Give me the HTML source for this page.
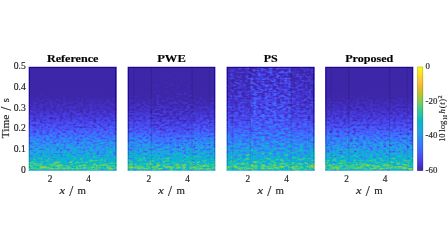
<!DOCTYPE html>
<html lang="en"><head><meta charset="utf-8"><title>Spectrogram comparison</title>
<style>html,body{margin:0;padding:0;background:#fff}body{width:448px;height:252px;overflow:hidden;position:relative;font-family:"Liberation Serif",serif}</style></head>
<body>
<svg width="448" height="252" viewBox="0 0 448 252" style="position:absolute;left:0;top:0;display:block">
<defs>
<linearGradient id="gb" x1="0" y1="0" x2="0" y2="1"><stop offset="0.007" stop-color="rgb(0,0,13)"/><stop offset="0.145" stop-color="rgb(10,0,18)"/><stop offset="0.205" stop-color="rgb(17,0,22)"/><stop offset="0.304" stop-color="rgb(23,0,26)"/><stop offset="0.403" stop-color="rgb(30,0,37)"/><stop offset="0.502" stop-color="rgb(40,0,53)"/><stop offset="0.602" stop-color="rgb(56,0,76)"/><stop offset="0.701" stop-color="rgb(82,0,122)"/><stop offset="0.760" stop-color="rgb(95,28,139)"/><stop offset="0.820" stop-color="rgb(107,113,152)"/><stop offset="0.867" stop-color="rgb(120,181,143)"/><stop offset="0.899" stop-color="rgb(130,227,135)"/><stop offset="0.929" stop-color="rgb(142,255,125)"/><stop offset="0.958" stop-color="rgb(155,255,115)"/><stop offset="0.972" stop-color="rgb(162,255,109)"/><stop offset="0.980" stop-color="rgb(160,255,111)"/><stop offset="0.988" stop-color="rgb(128,255,137)"/><stop offset="0.998" stop-color="rgb(112,255,150)"/></linearGradient>
<linearGradient id="gs" x1="0" y1="0" x2="0" y2="1"><stop offset="0.007" stop-color="rgb(27,0,76)"/><stop offset="0.205" stop-color="rgb(32,0,76)"/><stop offset="0.403" stop-color="rgb(39,0,76)"/><stop offset="0.502" stop-color="rgb(48,0,76)"/><stop offset="0.602" stop-color="rgb(62,0,84)"/><stop offset="0.701" stop-color="rgb(82,0,122)"/><stop offset="0.760" stop-color="rgb(95,28,139)"/><stop offset="0.820" stop-color="rgb(107,113,152)"/><stop offset="0.867" stop-color="rgb(120,181,143)"/><stop offset="0.899" stop-color="rgb(130,227,135)"/><stop offset="0.929" stop-color="rgb(142,255,125)"/><stop offset="0.958" stop-color="rgb(155,255,115)"/><stop offset="0.972" stop-color="rgb(162,255,109)"/><stop offset="0.980" stop-color="rgb(160,255,111)"/><stop offset="0.988" stop-color="rgb(128,255,137)"/><stop offset="0.998" stop-color="rgb(112,255,150)"/></linearGradient>
<linearGradient id="gm" x1="0" y1="0" x2="0" y2="1"><stop offset="0.007" stop-color="rgb(35,0,107)"/><stop offset="0.205" stop-color="rgb(40,0,107)"/><stop offset="0.403" stop-color="rgb(49,0,107)"/><stop offset="0.502" stop-color="rgb(56,0,107)"/><stop offset="0.602" stop-color="rgb(66,0,107)"/><stop offset="0.701" stop-color="rgb(82,0,122)"/><stop offset="0.760" stop-color="rgb(95,28,139)"/><stop offset="0.820" stop-color="rgb(107,113,152)"/><stop offset="0.867" stop-color="rgb(120,181,143)"/><stop offset="0.899" stop-color="rgb(130,227,135)"/><stop offset="0.929" stop-color="rgb(142,255,125)"/><stop offset="0.958" stop-color="rgb(155,255,115)"/><stop offset="0.972" stop-color="rgb(162,255,109)"/><stop offset="0.980" stop-color="rgb(160,255,111)"/><stop offset="0.988" stop-color="rgb(128,255,137)"/><stop offset="0.998" stop-color="rgb(112,255,150)"/></linearGradient>
<linearGradient id="gp" x1="0" y1="0" x2="0" y2="1"><stop offset="0.007" stop-color="rgb(8,0,64)"/><stop offset="0.086" stop-color="rgb(14,0,64)"/><stop offset="0.205" stop-color="rgb(16,0,64)"/><stop offset="0.304" stop-color="rgb(21,0,64)"/><stop offset="0.403" stop-color="rgb(28,0,64)"/><stop offset="0.502" stop-color="rgb(36,0,64)"/><stop offset="0.602" stop-color="rgb(50,0,68)"/><stop offset="0.701" stop-color="rgb(73,0,106)"/><stop offset="0.760" stop-color="rgb(89,28,132)"/><stop offset="0.820" stop-color="rgb(107,113,152)"/><stop offset="0.867" stop-color="rgb(120,181,143)"/><stop offset="0.899" stop-color="rgb(130,227,135)"/><stop offset="0.929" stop-color="rgb(142,255,125)"/><stop offset="0.958" stop-color="rgb(155,255,115)"/><stop offset="0.972" stop-color="rgb(162,255,109)"/><stop offset="0.980" stop-color="rgb(160,255,111)"/><stop offset="0.988" stop-color="rgb(128,255,137)"/><stop offset="0.998" stop-color="rgb(112,255,150)"/></linearGradient>
<filter id="f0" x="0" y="0" width="1" height="1" color-interpolation-filters="sRGB"><feColorMatrix in="SourceGraphic" type="matrix" values="1 0 0 0 0 1 0 0 0 0 1 0 0 0 0 0 0 0 0 1" result="m"/><feColorMatrix in="SourceGraphic" type="matrix" values="0 1 0 0 0 0 1 0 0 0 0 1 0 0 0 0 0 0 0 1" result="w"/><feColorMatrix in="SourceGraphic" type="matrix" values="0 0 1 0 0 0 0 1 0 0 0 0 1 0 0 0 0 0 0 1" result="a"/><feTurbulence type="fractalNoise" baseFrequency="0.3 0.45" numOctaves="2" seed="3" result="n0"/><feGaussianBlur in="n0" stdDeviation="0.3" result="n1"/><feColorMatrix in="n1" type="matrix" values="1 0 0 0 0 1 0 0 0 0 1 0 0 0 0 0 0 0 0 1" result="n2"/><feComponentTransfer in="n2" result="ns"><feFuncR type="table" tableValues="0.000 0.000 0.000 0.040 0.122 0.200 0.272 0.340 0.402 0.460 0.512 0.559 0.602 0.640 0.672 0.700 0.722 0.740 0.752 0.760 0.762"/><feFuncG type="table" tableValues="0.000 0.000 0.000 0.040 0.122 0.200 0.272 0.340 0.402 0.460 0.512 0.559 0.602 0.640 0.672 0.700 0.722 0.740 0.752 0.760 0.762"/><feFuncB type="table" tableValues="0.000 0.000 0.000 0.040 0.122 0.200 0.272 0.340 0.402 0.460 0.512 0.559 0.602 0.640 0.672 0.700 0.722 0.740 0.752 0.760 0.762"/></feComponentTransfer><feTurbulence type="fractalNoise" baseFrequency="0.13 0.6" numOctaves="2" seed="103" result="h0"/><feColorMatrix in="h0" type="matrix" values="1 0 0 0 0 1 0 0 0 0 1 0 0 0 0 0 0 0 0 1" result="h1"/><feComposite in="w" in2="h1" operator="arithmetic" k1="0.300" k2="-0.150" k3="0" k4="0.5" result="t2"/><feComposite in="m" in2="t2" operator="arithmetic" k1="0" k2="1" k3="1" k4="-0.5" result="m2"/><feComposite in="a" in2="ns" operator="arithmetic" k1="1.000" k2="-0.500" k3="0" k4="0.5" result="an"/><feComposite in="m2" in2="an" operator="arithmetic" k1="0" k2="1.1" k3="1" k4="-0.6" result="v"/><feComponentTransfer in="v"><feFuncR type="table" tableValues="0.242 0.250 0.258 0.265 0.271 0.275 0.278 0.280 0.281 0.281 0.280 0.276 0.270 0.260 0.244 0.221 0.196 0.183 0.179 0.176 0.169 0.154 0.146 0.138 0.125 0.111 0.095 0.069 0.030 0.004 0.007 0.043 0.096 0.141 0.172 0.194 0.216 0.247 0.291 0.341 0.391 0.446 0.504 0.562 0.617 0.672 0.724 0.774 0.820 0.863 0.903 0.939 0.973 0.996 0.997 0.995 0.989 0.979 0.968 0.961 0.960 0.963 0.969 0.977"/><feFuncG type="table" tableValues="0.150 0.165 0.182 0.198 0.215 0.234 0.256 0.278 0.301 0.323 0.345 0.367 0.389 0.412 0.436 0.460 0.485 0.507 0.529 0.550 0.570 0.590 0.609 0.628 0.646 0.663 0.680 0.695 0.708 0.720 0.731 0.741 0.750 0.758 0.767 0.776 0.784 0.792 0.797 0.801 0.803 0.802 0.799 0.794 0.788 0.779 0.770 0.760 0.750 0.741 0.733 0.729 0.730 0.743 0.766 0.789 0.814 0.839 0.864 0.889 0.913 0.937 0.961 0.984"/><feFuncB type="table" tableValues="0.660 0.708 0.751 0.795 0.836 0.871 0.899 0.922 0.941 0.958 0.972 0.983 0.991 0.995 0.999 0.997 0.989 0.980 0.968 0.952 0.936 0.922 0.908 0.897 0.888 0.876 0.860 0.839 0.816 0.792 0.766 0.739 0.712 0.684 0.655 0.625 0.592 0.557 0.519 0.479 0.435 0.391 0.348 0.304 0.261 0.223 0.191 0.165 0.153 0.160 0.177 0.210 0.239 0.237 0.220 0.203 0.189 0.177 0.164 0.154 0.142 0.127 0.106 0.081"/></feComponentTransfer></filter>
<filter id="f1" x="0" y="0" width="1" height="1" color-interpolation-filters="sRGB"><feColorMatrix in="SourceGraphic" type="matrix" values="1 0 0 0 0 1 0 0 0 0 1 0 0 0 0 0 0 0 0 1" result="m"/><feColorMatrix in="SourceGraphic" type="matrix" values="0 1 0 0 0 0 1 0 0 0 0 1 0 0 0 0 0 0 0 1" result="w"/><feColorMatrix in="SourceGraphic" type="matrix" values="0 0 1 0 0 0 0 1 0 0 0 0 1 0 0 0 0 0 0 1" result="a"/><feTurbulence type="fractalNoise" baseFrequency="0.3 0.45" numOctaves="2" seed="11" result="n0"/><feGaussianBlur in="n0" stdDeviation="0.3" result="n1"/><feColorMatrix in="n1" type="matrix" values="1 0 0 0 0 1 0 0 0 0 1 0 0 0 0 0 0 0 0 1" result="n2"/><feComponentTransfer in="n2" result="ns"><feFuncR type="table" tableValues="0.000 0.000 0.000 0.040 0.122 0.200 0.272 0.340 0.402 0.460 0.512 0.559 0.602 0.640 0.672 0.700 0.722 0.740 0.752 0.760 0.762"/><feFuncG type="table" tableValues="0.000 0.000 0.000 0.040 0.122 0.200 0.272 0.340 0.402 0.460 0.512 0.559 0.602 0.640 0.672 0.700 0.722 0.740 0.752 0.760 0.762"/><feFuncB type="table" tableValues="0.000 0.000 0.000 0.040 0.122 0.200 0.272 0.340 0.402 0.460 0.512 0.559 0.602 0.640 0.672 0.700 0.722 0.740 0.752 0.760 0.762"/></feComponentTransfer><feTurbulence type="fractalNoise" baseFrequency="0.13 0.6" numOctaves="2" seed="111" result="h0"/><feColorMatrix in="h0" type="matrix" values="1 0 0 0 0 1 0 0 0 0 1 0 0 0 0 0 0 0 0 1" result="h1"/><feComposite in="w" in2="h1" operator="arithmetic" k1="0.300" k2="-0.150" k3="0" k4="0.5" result="t2"/><feComposite in="m" in2="t2" operator="arithmetic" k1="0" k2="1" k3="1" k4="-0.5" result="m2"/><feComposite in="a" in2="ns" operator="arithmetic" k1="1.000" k2="-0.500" k3="0" k4="0.5" result="an"/><feComposite in="m2" in2="an" operator="arithmetic" k1="0" k2="1.1" k3="1" k4="-0.6" result="v"/><feComponentTransfer in="v"><feFuncR type="table" tableValues="0.242 0.250 0.258 0.265 0.271 0.275 0.278 0.280 0.281 0.281 0.280 0.276 0.270 0.260 0.244 0.221 0.196 0.183 0.179 0.176 0.169 0.154 0.146 0.138 0.125 0.111 0.095 0.069 0.030 0.004 0.007 0.043 0.096 0.141 0.172 0.194 0.216 0.247 0.291 0.341 0.391 0.446 0.504 0.562 0.617 0.672 0.724 0.774 0.820 0.863 0.903 0.939 0.973 0.996 0.997 0.995 0.989 0.979 0.968 0.961 0.960 0.963 0.969 0.977"/><feFuncG type="table" tableValues="0.150 0.165 0.182 0.198 0.215 0.234 0.256 0.278 0.301 0.323 0.345 0.367 0.389 0.412 0.436 0.460 0.485 0.507 0.529 0.550 0.570 0.590 0.609 0.628 0.646 0.663 0.680 0.695 0.708 0.720 0.731 0.741 0.750 0.758 0.767 0.776 0.784 0.792 0.797 0.801 0.803 0.802 0.799 0.794 0.788 0.779 0.770 0.760 0.750 0.741 0.733 0.729 0.730 0.743 0.766 0.789 0.814 0.839 0.864 0.889 0.913 0.937 0.961 0.984"/><feFuncB type="table" tableValues="0.660 0.708 0.751 0.795 0.836 0.871 0.899 0.922 0.941 0.958 0.972 0.983 0.991 0.995 0.999 0.997 0.989 0.980 0.968 0.952 0.936 0.922 0.908 0.897 0.888 0.876 0.860 0.839 0.816 0.792 0.766 0.739 0.712 0.684 0.655 0.625 0.592 0.557 0.519 0.479 0.435 0.391 0.348 0.304 0.261 0.223 0.191 0.165 0.153 0.160 0.177 0.210 0.239 0.237 0.220 0.203 0.189 0.177 0.164 0.154 0.142 0.127 0.106 0.081"/></feComponentTransfer></filter>
<filter id="f2" x="0" y="0" width="1" height="1" color-interpolation-filters="sRGB"><feColorMatrix in="SourceGraphic" type="matrix" values="1 0 0 0 0 1 0 0 0 0 1 0 0 0 0 0 0 0 0 1" result="m"/><feColorMatrix in="SourceGraphic" type="matrix" values="0 1 0 0 0 0 1 0 0 0 0 1 0 0 0 0 0 0 0 1" result="w"/><feColorMatrix in="SourceGraphic" type="matrix" values="0 0 1 0 0 0 0 1 0 0 0 0 1 0 0 0 0 0 0 1" result="a"/><feTurbulence type="fractalNoise" baseFrequency="0.26 0.46" numOctaves="2" seed="23" result="n0"/><feGaussianBlur in="n0" stdDeviation="0.3" result="n1"/><feColorMatrix in="n1" type="matrix" values="1 0 0 0 0 1 0 0 0 0 1 0 0 0 0 0 0 0 0 1" result="n2"/><feComponentTransfer in="n2" result="ns"><feFuncR type="table" tableValues="0.119 0.145 0.174 0.205 0.239 0.275 0.314 0.355 0.399 0.445 0.494 0.545 0.599 0.655 0.714 0.775 0.839 0.905 0.974 1.000 1.000"/><feFuncG type="table" tableValues="0.119 0.145 0.174 0.205 0.239 0.275 0.314 0.355 0.399 0.445 0.494 0.545 0.599 0.655 0.714 0.775 0.839 0.905 0.974 1.000 1.000"/><feFuncB type="table" tableValues="0.119 0.145 0.174 0.205 0.239 0.275 0.314 0.355 0.399 0.445 0.494 0.545 0.599 0.655 0.714 0.775 0.839 0.905 0.974 1.000 1.000"/></feComponentTransfer><feTurbulence type="fractalNoise" baseFrequency="0.13 0.6" numOctaves="2" seed="123" result="h0"/><feColorMatrix in="h0" type="matrix" values="1 0 0 0 0 1 0 0 0 0 1 0 0 0 0 0 0 0 0 1" result="h1"/><feComposite in="w" in2="h1" operator="arithmetic" k1="0.300" k2="-0.150" k3="0" k4="0.5" result="t2"/><feComposite in="m" in2="t2" operator="arithmetic" k1="0" k2="1" k3="1" k4="-0.5" result="m2"/><feComposite in="a" in2="ns" operator="arithmetic" k1="1.000" k2="-0.500" k3="0" k4="0.5" result="an"/><feComposite in="m2" in2="an" operator="arithmetic" k1="0" k2="1.1" k3="1" k4="-0.6" result="v"/><feComponentTransfer in="v"><feFuncR type="table" tableValues="0.242 0.250 0.258 0.265 0.271 0.275 0.278 0.280 0.281 0.281 0.280 0.276 0.270 0.260 0.244 0.221 0.196 0.183 0.179 0.176 0.169 0.154 0.146 0.138 0.125 0.111 0.095 0.069 0.030 0.004 0.007 0.043 0.096 0.141 0.172 0.194 0.216 0.247 0.291 0.341 0.391 0.446 0.504 0.562 0.617 0.672 0.724 0.774 0.820 0.863 0.903 0.939 0.973 0.996 0.997 0.995 0.989 0.979 0.968 0.961 0.960 0.963 0.969 0.977"/><feFuncG type="table" tableValues="0.150 0.165 0.182 0.198 0.215 0.234 0.256 0.278 0.301 0.323 0.345 0.367 0.389 0.412 0.436 0.460 0.485 0.507 0.529 0.550 0.570 0.590 0.609 0.628 0.646 0.663 0.680 0.695 0.708 0.720 0.731 0.741 0.750 0.758 0.767 0.776 0.784 0.792 0.797 0.801 0.803 0.802 0.799 0.794 0.788 0.779 0.770 0.760 0.750 0.741 0.733 0.729 0.730 0.743 0.766 0.789 0.814 0.839 0.864 0.889 0.913 0.937 0.961 0.984"/><feFuncB type="table" tableValues="0.660 0.708 0.751 0.795 0.836 0.871 0.899 0.922 0.941 0.958 0.972 0.983 0.991 0.995 0.999 0.997 0.989 0.980 0.968 0.952 0.936 0.922 0.908 0.897 0.888 0.876 0.860 0.839 0.816 0.792 0.766 0.739 0.712 0.684 0.655 0.625 0.592 0.557 0.519 0.479 0.435 0.391 0.348 0.304 0.261 0.223 0.191 0.165 0.153 0.160 0.177 0.210 0.239 0.237 0.220 0.203 0.189 0.177 0.164 0.154 0.142 0.127 0.106 0.081"/></feComponentTransfer></filter>
<filter id="f3" x="0" y="0" width="1" height="1" color-interpolation-filters="sRGB"><feColorMatrix in="SourceGraphic" type="matrix" values="1 0 0 0 0 1 0 0 0 0 1 0 0 0 0 0 0 0 0 1" result="m"/><feColorMatrix in="SourceGraphic" type="matrix" values="0 1 0 0 0 0 1 0 0 0 0 1 0 0 0 0 0 0 0 1" result="w"/><feColorMatrix in="SourceGraphic" type="matrix" values="0 0 1 0 0 0 0 1 0 0 0 0 1 0 0 0 0 0 0 1" result="a"/><feTurbulence type="fractalNoise" baseFrequency="0.3 0.45" numOctaves="2" seed="37" result="n0"/><feGaussianBlur in="n0" stdDeviation="0.3" result="n1"/><feColorMatrix in="n1" type="matrix" values="1 0 0 0 0 1 0 0 0 0 1 0 0 0 0 0 0 0 0 1" result="n2"/><feComponentTransfer in="n2" result="ns"><feFuncR type="table" tableValues="0.000 0.000 0.000 0.040 0.122 0.200 0.272 0.340 0.402 0.460 0.512 0.559 0.602 0.640 0.672 0.700 0.722 0.740 0.752 0.760 0.762"/><feFuncG type="table" tableValues="0.000 0.000 0.000 0.040 0.122 0.200 0.272 0.340 0.402 0.460 0.512 0.559 0.602 0.640 0.672 0.700 0.722 0.740 0.752 0.760 0.762"/><feFuncB type="table" tableValues="0.000 0.000 0.000 0.040 0.122 0.200 0.272 0.340 0.402 0.460 0.512 0.559 0.602 0.640 0.672 0.700 0.722 0.740 0.752 0.760 0.762"/></feComponentTransfer><feTurbulence type="fractalNoise" baseFrequency="0.13 0.6" numOctaves="2" seed="137" result="h0"/><feColorMatrix in="h0" type="matrix" values="1 0 0 0 0 1 0 0 0 0 1 0 0 0 0 0 0 0 0 1" result="h1"/><feComposite in="w" in2="h1" operator="arithmetic" k1="0.300" k2="-0.150" k3="0" k4="0.5" result="t2"/><feComposite in="m" in2="t2" operator="arithmetic" k1="0" k2="1" k3="1" k4="-0.5" result="m2"/><feComposite in="a" in2="ns" operator="arithmetic" k1="1.000" k2="-0.500" k3="0" k4="0.5" result="an"/><feComposite in="m2" in2="an" operator="arithmetic" k1="0" k2="1.1" k3="1" k4="-0.6" result="v"/><feComponentTransfer in="v"><feFuncR type="table" tableValues="0.242 0.250 0.258 0.265 0.271 0.275 0.278 0.280 0.281 0.281 0.280 0.276 0.270 0.260 0.244 0.221 0.196 0.183 0.179 0.176 0.169 0.154 0.146 0.138 0.125 0.111 0.095 0.069 0.030 0.004 0.007 0.043 0.096 0.141 0.172 0.194 0.216 0.247 0.291 0.341 0.391 0.446 0.504 0.562 0.617 0.672 0.724 0.774 0.820 0.863 0.903 0.939 0.973 0.996 0.997 0.995 0.989 0.979 0.968 0.961 0.960 0.963 0.969 0.977"/><feFuncG type="table" tableValues="0.150 0.165 0.182 0.198 0.215 0.234 0.256 0.278 0.301 0.323 0.345 0.367 0.389 0.412 0.436 0.460 0.485 0.507 0.529 0.550 0.570 0.590 0.609 0.628 0.646 0.663 0.680 0.695 0.708 0.720 0.731 0.741 0.750 0.758 0.767 0.776 0.784 0.792 0.797 0.801 0.803 0.802 0.799 0.794 0.788 0.779 0.770 0.760 0.750 0.741 0.733 0.729 0.730 0.743 0.766 0.789 0.814 0.839 0.864 0.889 0.913 0.937 0.961 0.984"/><feFuncB type="table" tableValues="0.660 0.708 0.751 0.795 0.836 0.871 0.899 0.922 0.941 0.958 0.972 0.983 0.991 0.995 0.999 0.997 0.989 0.980 0.968 0.952 0.936 0.922 0.908 0.897 0.888 0.876 0.860 0.839 0.816 0.792 0.766 0.739 0.712 0.684 0.655 0.625 0.592 0.557 0.519 0.479 0.435 0.391 0.348 0.304 0.261 0.223 0.191 0.165 0.153 0.160 0.177 0.210 0.239 0.237 0.220 0.203 0.189 0.177 0.164 0.154 0.142 0.127 0.106 0.081"/></feComponentTransfer></filter>
<linearGradient id="cb" x1="0" y1="0" x2="0" y2="1"><stop offset="0.0000" stop-color="#f9fb15"/><stop offset="0.0476" stop-color="#f5e924"/><stop offset="0.0952" stop-color="#fad62d"/><stop offset="0.1429" stop-color="#fec338"/><stop offset="0.1905" stop-color="#f0ba36"/><stop offset="0.2381" stop-color="#d1bf27"/><stop offset="0.2857" stop-color="#abc739"/><stop offset="0.3333" stop-color="#81cc59"/><stop offset="0.3810" stop-color="#57cc7a"/><stop offset="0.4286" stop-color="#37c897"/><stop offset="0.4762" stop-color="#24c1ae"/><stop offset="0.5238" stop-color="#02bac3"/><stop offset="0.5714" stop-color="#12b1d6"/><stop offset="0.6190" stop-color="#20a5e3"/><stop offset="0.6667" stop-color="#2797eb"/><stop offset="0.7143" stop-color="#2e87f7"/><stop offset="0.7619" stop-color="#3875fe"/><stop offset="0.8095" stop-color="#4563fd"/><stop offset="0.8571" stop-color="#4852f4"/><stop offset="0.9048" stop-color="#4741e5"/><stop offset="0.9524" stop-color="#4332cb"/><stop offset="1.0000" stop-color="#3e26a8"/><stop offset="1" stop-color="#3e26a8"/></linearGradient>
<linearGradient id="lg" x1="0" y1="0" x2="0" y2="1"><stop offset="0" stop-color="#000" stop-opacity="1"/><stop offset="0.55" stop-color="#000" stop-opacity="1"/><stop offset="1" stop-color="#000" stop-opacity="0.45"/></linearGradient>
<linearGradient id="eg" x1="0" y1="0" x2="0" y2="1"><stop offset="0" stop-color="#14008c" stop-opacity="0.8"/><stop offset="0.3" stop-color="#14008c" stop-opacity="0.75"/><stop offset="0.5" stop-color="#100070" stop-opacity="0.55"/><stop offset="0.7" stop-color="#0c0060" stop-opacity="0.35"/><stop offset="0.9" stop-color="#080040" stop-opacity="0.15"/><stop offset="1" stop-color="#080040" stop-opacity="0.1"/></linearGradient>
</defs>
<clipPath id="c0"><rect x="28.65" y="66.70" width="88.10" height="104.10"/></clipPath>
<g clip-path="url(#c0)"><g filter="url(#f0)">
<rect x="28" y="66" width="89" height="105" fill="url(#gb)"/>
</g></g>
<rect x="29.00" y="67" width="87.00" height="1" fill="#14008c" opacity="0.8"/>
<rect x="29.00" y="68" width="1" height="102.50" fill="url(#eg)"/>
<rect x="115.00" y="68" width="1" height="102.50" fill="url(#eg)"/>
<text x="72.70" y="61.6" text-anchor="middle" font-family="'Liberation Serif', serif" stroke="#262626" stroke-width="0.18" font-weight="bold" font-size="11.1" fill="#000" textLength="51.5" lengthAdjust="spacingAndGlyphs">Reference</text>
<text x="50.00" y="182.1" text-anchor="middle" font-family="'Liberation Serif', serif" stroke="#262626" stroke-width="0.18" font-size="9.3" fill="#262626">2</text>
<text x="88.70" y="182.1" text-anchor="middle" font-family="'Liberation Serif', serif" stroke="#262626" stroke-width="0.18" font-size="9.3" fill="#262626">4</text>
<text x="59.50" y="194.3" font-family="'Liberation Serif', serif" stroke="#262626" stroke-width="0.18" font-size="10.5" font-style="italic" fill="#262626" textLength="5.6" lengthAdjust="spacingAndGlyphs">x</text>
<text x="69.20" y="196.3" font-family="'Liberation Serif', serif" stroke="#262626" stroke-width="0.18" font-size="14.5" fill="#262626">/</text>
<text x="77.60" y="194.3" font-family="'Liberation Serif', serif" stroke="#262626" stroke-width="0.18" font-size="10.5" fill="#262626" textLength="8.4" lengthAdjust="spacingAndGlyphs">m</text>
<clipPath id="c1"><rect x="127.60" y="66.70" width="87.80" height="104.10"/></clipPath>
<g clip-path="url(#c1)"><g filter="url(#f1)">
<rect x="127" y="66" width="89" height="105" fill="url(#gb)"/>
<rect x="151.30" y="66" width="40.80" height="105" fill="url(#gp)"/>
</g></g>
<rect x="133.20" y="66.70" width="1" height="104.10" fill="url(#lg)" opacity="0.11"/>
<rect x="150.80" y="66.70" width="1" height="104.10" fill="url(#lg)" opacity="0.17"/>
<rect x="191.60" y="66.70" width="1" height="104.10" fill="url(#lg)" opacity="0.17"/>
<rect x="209.20" y="66.70" width="1" height="104.10" fill="url(#lg)" opacity="0.11"/>
<rect x="128.00" y="67" width="87.00" height="1" fill="#14008c" opacity="0.8"/>
<rect x="128.00" y="68" width="1" height="102.50" fill="url(#eg)"/>
<rect x="214.00" y="68" width="1" height="102.50" fill="url(#eg)"/>
<text x="171.50" y="61.6" text-anchor="middle" font-family="'Liberation Serif', serif" stroke="#262626" stroke-width="0.18" font-weight="bold" font-size="11.1" fill="#000" textLength="28.6" lengthAdjust="spacingAndGlyphs">PWE</text>
<text x="148.95" y="182.1" text-anchor="middle" font-family="'Liberation Serif', serif" stroke="#262626" stroke-width="0.18" font-size="9.3" fill="#262626">2</text>
<text x="187.65" y="182.1" text-anchor="middle" font-family="'Liberation Serif', serif" stroke="#262626" stroke-width="0.18" font-size="9.3" fill="#262626">4</text>
<text x="158.30" y="194.3" font-family="'Liberation Serif', serif" stroke="#262626" stroke-width="0.18" font-size="10.5" font-style="italic" fill="#262626" textLength="5.6" lengthAdjust="spacingAndGlyphs">x</text>
<text x="168.00" y="196.3" font-family="'Liberation Serif', serif" stroke="#262626" stroke-width="0.18" font-size="14.5" fill="#262626">/</text>
<text x="176.40" y="194.3" font-family="'Liberation Serif', serif" stroke="#262626" stroke-width="0.18" font-size="10.5" fill="#262626" textLength="8.4" lengthAdjust="spacingAndGlyphs">m</text>
<clipPath id="c2"><rect x="226.55" y="66.70" width="88.20" height="104.10"/></clipPath>
<g clip-path="url(#c2)"><g filter="url(#f2)">
<rect x="226" y="66" width="89" height="105" fill="url(#gs)"/>
<rect x="250.25" y="66" width="40.80" height="105" fill="url(#gm)"/>
</g></g>
<rect x="232.15" y="66.70" width="1" height="104.10" fill="url(#lg)" opacity="0.11"/>
<rect x="249.75" y="66.70" width="1" height="104.10" fill="url(#lg)" opacity="0.17"/>
<rect x="290.55" y="66.70" width="1" height="104.10" fill="url(#lg)" opacity="0.17"/>
<rect x="308.15" y="66.70" width="1" height="104.10" fill="url(#lg)" opacity="0.11"/>
<rect x="227.00" y="67" width="87.00" height="1" fill="#14008c" opacity="0.8"/>
<rect x="227.00" y="68" width="1" height="102.50" fill="url(#eg)"/>
<rect x="313.00" y="68" width="1" height="102.50" fill="url(#eg)"/>
<text x="270.65" y="61.6" text-anchor="middle" font-family="'Liberation Serif', serif" stroke="#262626" stroke-width="0.18" font-weight="bold" font-size="11.1" fill="#000" textLength="14.0" lengthAdjust="spacingAndGlyphs">PS</text>
<text x="247.90" y="182.1" text-anchor="middle" font-family="'Liberation Serif', serif" stroke="#262626" stroke-width="0.18" font-size="9.3" fill="#262626">2</text>
<text x="286.60" y="182.1" text-anchor="middle" font-family="'Liberation Serif', serif" stroke="#262626" stroke-width="0.18" font-size="9.3" fill="#262626">4</text>
<text x="257.45" y="194.3" font-family="'Liberation Serif', serif" stroke="#262626" stroke-width="0.18" font-size="10.5" font-style="italic" fill="#262626" textLength="5.6" lengthAdjust="spacingAndGlyphs">x</text>
<text x="267.15" y="196.3" font-family="'Liberation Serif', serif" stroke="#262626" stroke-width="0.18" font-size="14.5" fill="#262626">/</text>
<text x="275.55" y="194.3" font-family="'Liberation Serif', serif" stroke="#262626" stroke-width="0.18" font-size="10.5" fill="#262626" textLength="8.4" lengthAdjust="spacingAndGlyphs">m</text>
<clipPath id="c3"><rect x="325.15" y="66.70" width="88.20" height="104.10"/></clipPath>
<g clip-path="url(#c3)"><g filter="url(#f3)">
<rect x="325" y="66" width="89" height="105" fill="url(#gb)"/>
</g></g>
<rect x="330.75" y="66.70" width="1" height="104.10" fill="url(#lg)" opacity="0.11"/>
<rect x="348.35" y="66.70" width="1" height="104.10" fill="url(#lg)" opacity="0.17"/>
<rect x="389.15" y="66.70" width="1" height="104.10" fill="url(#lg)" opacity="0.17"/>
<rect x="406.75" y="66.70" width="1" height="104.10" fill="url(#lg)" opacity="0.11"/>
<rect x="325.50" y="67" width="87.50" height="1" fill="#14008c" opacity="0.8"/>
<rect x="325.50" y="68" width="1" height="102.50" fill="url(#eg)"/>
<rect x="412.00" y="68" width="1" height="102.50" fill="url(#eg)"/>
<text x="369.25" y="61.6" text-anchor="middle" font-family="'Liberation Serif', serif" stroke="#262626" stroke-width="0.18" font-weight="bold" font-size="11.1" fill="#000" textLength="48.1" lengthAdjust="spacingAndGlyphs">Proposed</text>
<text x="346.50" y="182.1" text-anchor="middle" font-family="'Liberation Serif', serif" stroke="#262626" stroke-width="0.18" font-size="9.3" fill="#262626">2</text>
<text x="385.20" y="182.1" text-anchor="middle" font-family="'Liberation Serif', serif" stroke="#262626" stroke-width="0.18" font-size="9.3" fill="#262626">4</text>
<text x="356.05" y="194.3" font-family="'Liberation Serif', serif" stroke="#262626" stroke-width="0.18" font-size="10.5" font-style="italic" fill="#262626" textLength="5.6" lengthAdjust="spacingAndGlyphs">x</text>
<text x="365.75" y="196.3" font-family="'Liberation Serif', serif" stroke="#262626" stroke-width="0.18" font-size="14.5" fill="#262626">/</text>
<text x="374.15" y="194.3" font-family="'Liberation Serif', serif" stroke="#262626" stroke-width="0.18" font-size="10.5" fill="#262626" textLength="8.4" lengthAdjust="spacingAndGlyphs">m</text>
<text x="25.8" y="69.10" text-anchor="end" font-family="'Liberation Serif', serif" stroke="#262626" stroke-width="0.18" font-size="9.6" fill="#262626">0.5</text>
<text x="25.8" y="89.85" text-anchor="end" font-family="'Liberation Serif', serif" stroke="#262626" stroke-width="0.18" font-size="9.6" fill="#262626">0.4</text>
<text x="25.8" y="110.60" text-anchor="end" font-family="'Liberation Serif', serif" stroke="#262626" stroke-width="0.18" font-size="9.6" fill="#262626">0.3</text>
<text x="25.8" y="131.35" text-anchor="end" font-family="'Liberation Serif', serif" stroke="#262626" stroke-width="0.18" font-size="9.6" fill="#262626">0.2</text>
<text x="25.8" y="152.10" text-anchor="end" font-family="'Liberation Serif', serif" stroke="#262626" stroke-width="0.18" font-size="9.6" fill="#262626">0.1</text>
<text x="25.8" y="172.85" text-anchor="end" font-family="'Liberation Serif', serif" stroke="#262626" stroke-width="0.18" font-size="9.6" fill="#262626">0</text>
<g transform="translate(8.6,138.3) rotate(-90)" font-family="'Liberation Serif', serif" stroke="#262626" stroke-width="0.18" fill="#262626"><text x="0" y="0" font-size="10.5" textLength="23.6" lengthAdjust="spacingAndGlyphs">Time</text><text x="27.6" y="2" font-size="14.5">/</text><text x="36" y="0" font-size="10.5">s</text></g>
<rect x="417.2" y="66.70" width="5.9" height="104.10" fill="url(#cb)"/>
<rect x="417.45" y="66.95" width="5.4" height="103.60" fill="none" stroke="#000" stroke-opacity="0.3" stroke-width="0.5"/>
<text x="425.6" y="69.00" font-family="'Liberation Serif', serif" stroke="#262626" stroke-width="0.18" font-size="8.8" fill="#262626">0</text>
<text x="425.6" y="103.58" font-family="'Liberation Serif', serif" stroke="#262626" stroke-width="0.18" font-size="8.8" fill="#262626">-20</text>
<text x="425.6" y="138.17" font-family="'Liberation Serif', serif" stroke="#262626" stroke-width="0.18" font-size="8.8" fill="#262626">-40</text>
<text x="425.6" y="172.75" font-family="'Liberation Serif', serif" stroke="#262626" stroke-width="0.18" font-size="8.8" fill="#262626">-60</text>
<g transform="translate(445.3,141.8) rotate(-90)" font-family="'Liberation Serif', serif" stroke="#262626" stroke-width="0.18" fill="#262626" font-size="8.6"><text x="0" y="0" textLength="8.3" lengthAdjust="spacingAndGlyphs">10</text><text x="10.1" y="0" textLength="11.2" lengthAdjust="spacingAndGlyphs">log</text><text x="21.7" y="1.6" font-size="6" textLength="5.4" lengthAdjust="spacingAndGlyphs">10</text><text x="28.3" y="0" font-style="italic">h</text><text x="33.5" y="0">(</text><text x="37.0" y="0" font-style="italic">t</text><text x="40.1" y="0">)</text><text x="43.4" y="-3.4" font-size="6">2</text></g>
</svg>
</body></html>
